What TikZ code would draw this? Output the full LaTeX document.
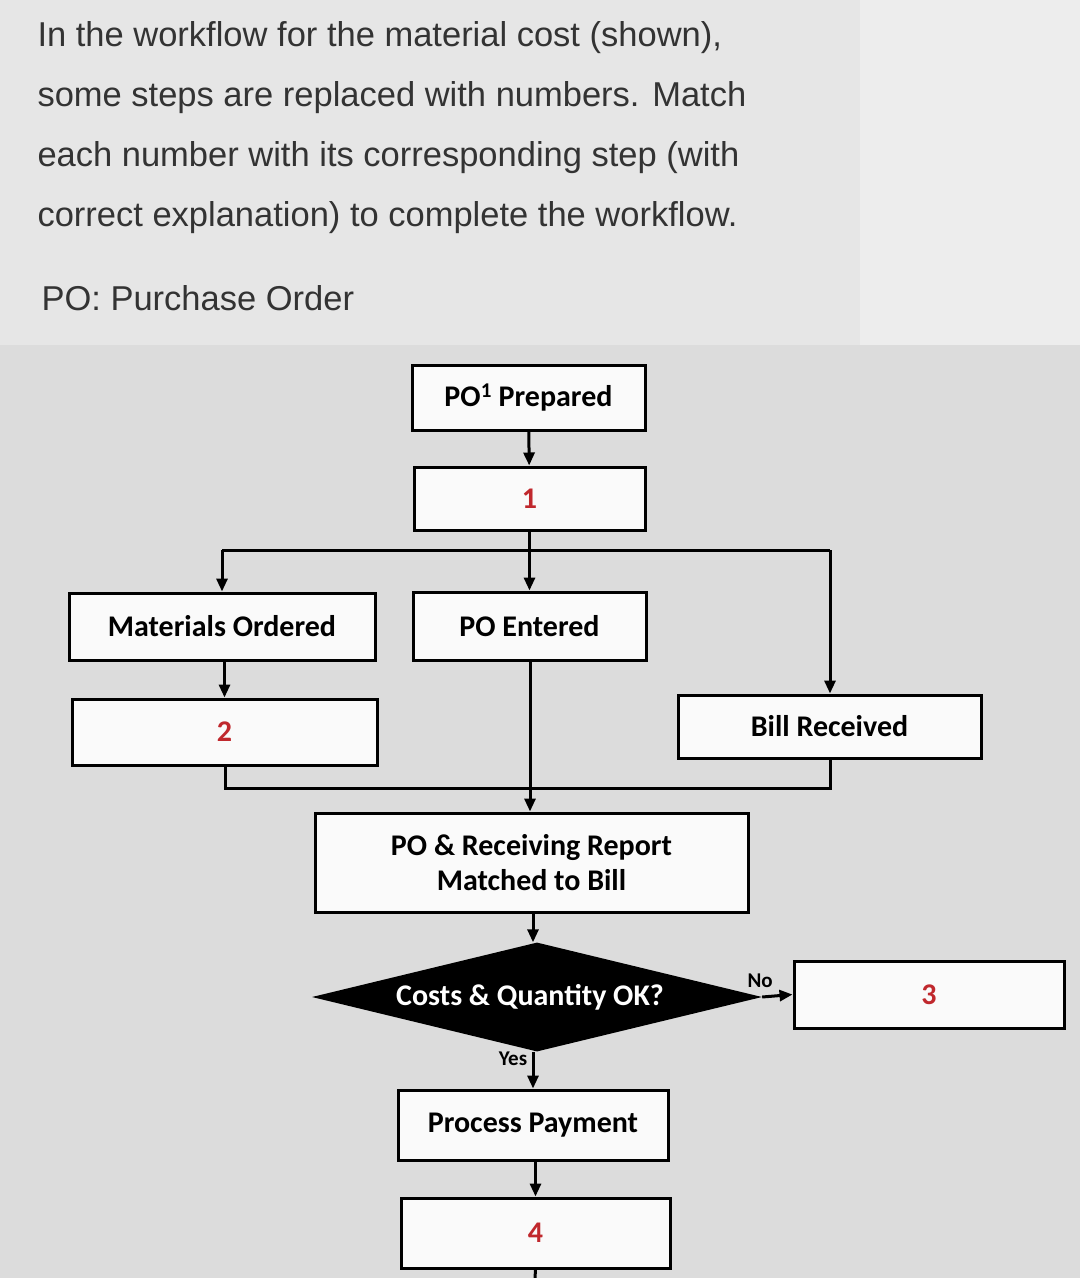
\documentclass[tikz,border=0pt]{standalone}
\usepackage{fontspec}
\setmainfont{Liberation Sans}
\newfontfamily\dg{Carlito}
\usetikzlibrary{shapes.geometric,arrows.meta}
\definecolor{bg}{HTML}{DCDCDC}
\definecolor{bgtop}{HTML}{E6E6E6}
\definecolor{num}{HTML}{C0282D}
\begin{document}
\begin{tikzpicture}[x=1pt,y=-1pt,
  box/.style={draw=black,line width=3pt,fill=white!96!gray,font=\dg\bfseries\fontsize{30}{35}\selectfont,align=center,inner sep=0pt},
  nb/.style={box,text=num},
  ln/.style={line width=3pt},
  ar/.style={ln,-{Triangle[length=13pt,width=11pt]}},
  lab/.style={font=\dg\bfseries\fontsize{21}{24}\selectfont}]
\useasboundingbox (0,0) rectangle (1080,1278);
\fill[bg] (0,0) rectangle (1080,1278);
\fill[bgtop] (0,0) rectangle (860,345);
\fill[bgtop!70!white] (860,0) rectangle (1080,345);
\begin{scope}[every node/.style={anchor=west,font=\fontsize{34.5}{40}\selectfont,text=black!80}]
\node (t1) at (34,38) {In the workflow for the material cost (shown),};
\node (t2) at (34,98) {some steps are replaced with numbers. Match};
\node (t3) at (34,158) {each number with its corresponding step (with};
\node (t4) at (34,218) {correct explanation) to complete the workflow.};
\node (t5) at (38,298) {PO: Purchase Order};
\end{scope}
\node[box,minimum width=233,minimum height=65] (pp) at (528.5,397.5) {PO\textsuperscript{1} Prepared};
\node[nb,minimum width=231,minimum height=63] (n1) at (529.5,498.5) {1};
\node[box,minimum width=306,minimum height=67] (mo) at (222,626.5) {Materials Ordered};
\node[box,minimum width=233,minimum height=68] (pe) at (529.5,626) {PO Entered};
\node[nb,minimum width=305,minimum height=66] (n2) at (224.5,732) {2};
\node[box,minimum width=303,minimum height=63] (br) at (829.5,726.5) {Bill Received};
\node[box,minimum width=433,minimum height=99] (rr) at (531.5,862.5) {PO \& Receiving Report\\Matched to Bill};
\node[diamond,fill=black,aspect=4.2,minimum width=450,minimum height=109,inner sep=0pt] (dm) at (537,997) {};
\node[text=white,font=\dg\bfseries\fontsize{30}{35}\selectfont] (dt) at (530,997) {Costs \& Quantity OK?};
\node[nb,minimum width=270,minimum height=67] (n3) at (929,994.5) {3};
\node[box,minimum width=270,minimum height=70] (pay) at (533,1125) {Process Payment};
\node[nb,minimum width=269,minimum height=70] (n4) at (535.5,1233) {4};
\coordinate (jl) at (222,550);
\coordinate (jr) at (830,550);
\coordinate (bl) at (225,788);
\coordinate (bm) at (530,788);
\coordinate (brr) at (830,788);
\coordinate (end) at (535,1278);
\draw[ar] (pp) -- (n1);
\draw[ar] (n1) -- (pe);
\draw[ln] (jl) -- (jr);
\draw[ar] (jl) -- (mo.north -| jl);
\draw[ar] (jr) -- (br.north -| jr);
\draw[ar] (mo.south -| n2) -- (n2);
\draw[ln] (n2.south -| bl) -- (bl) -- (brr) -- (br.south -| brr);
\draw[ar] (pe.south -| bm) -- (rr.north -| bm);
\draw[ar] (rr.south -| pay) -- (dm.north -| pay);
\draw[ar] (dm.east) -- node[lab,above,pos=0.0,yshift=5pt,xshift=-2pt]{No} (n3.west);
\draw[ar] (dm.south -| pay) -- node[lab,left,pos=0.2,xshift=-1pt]{Yes} (pay.north);
\draw[ar] (pay.south -| n4) -- (n4);
\draw[ln] (n4.south) -- (end);
\end{tikzpicture}
\end{document}
